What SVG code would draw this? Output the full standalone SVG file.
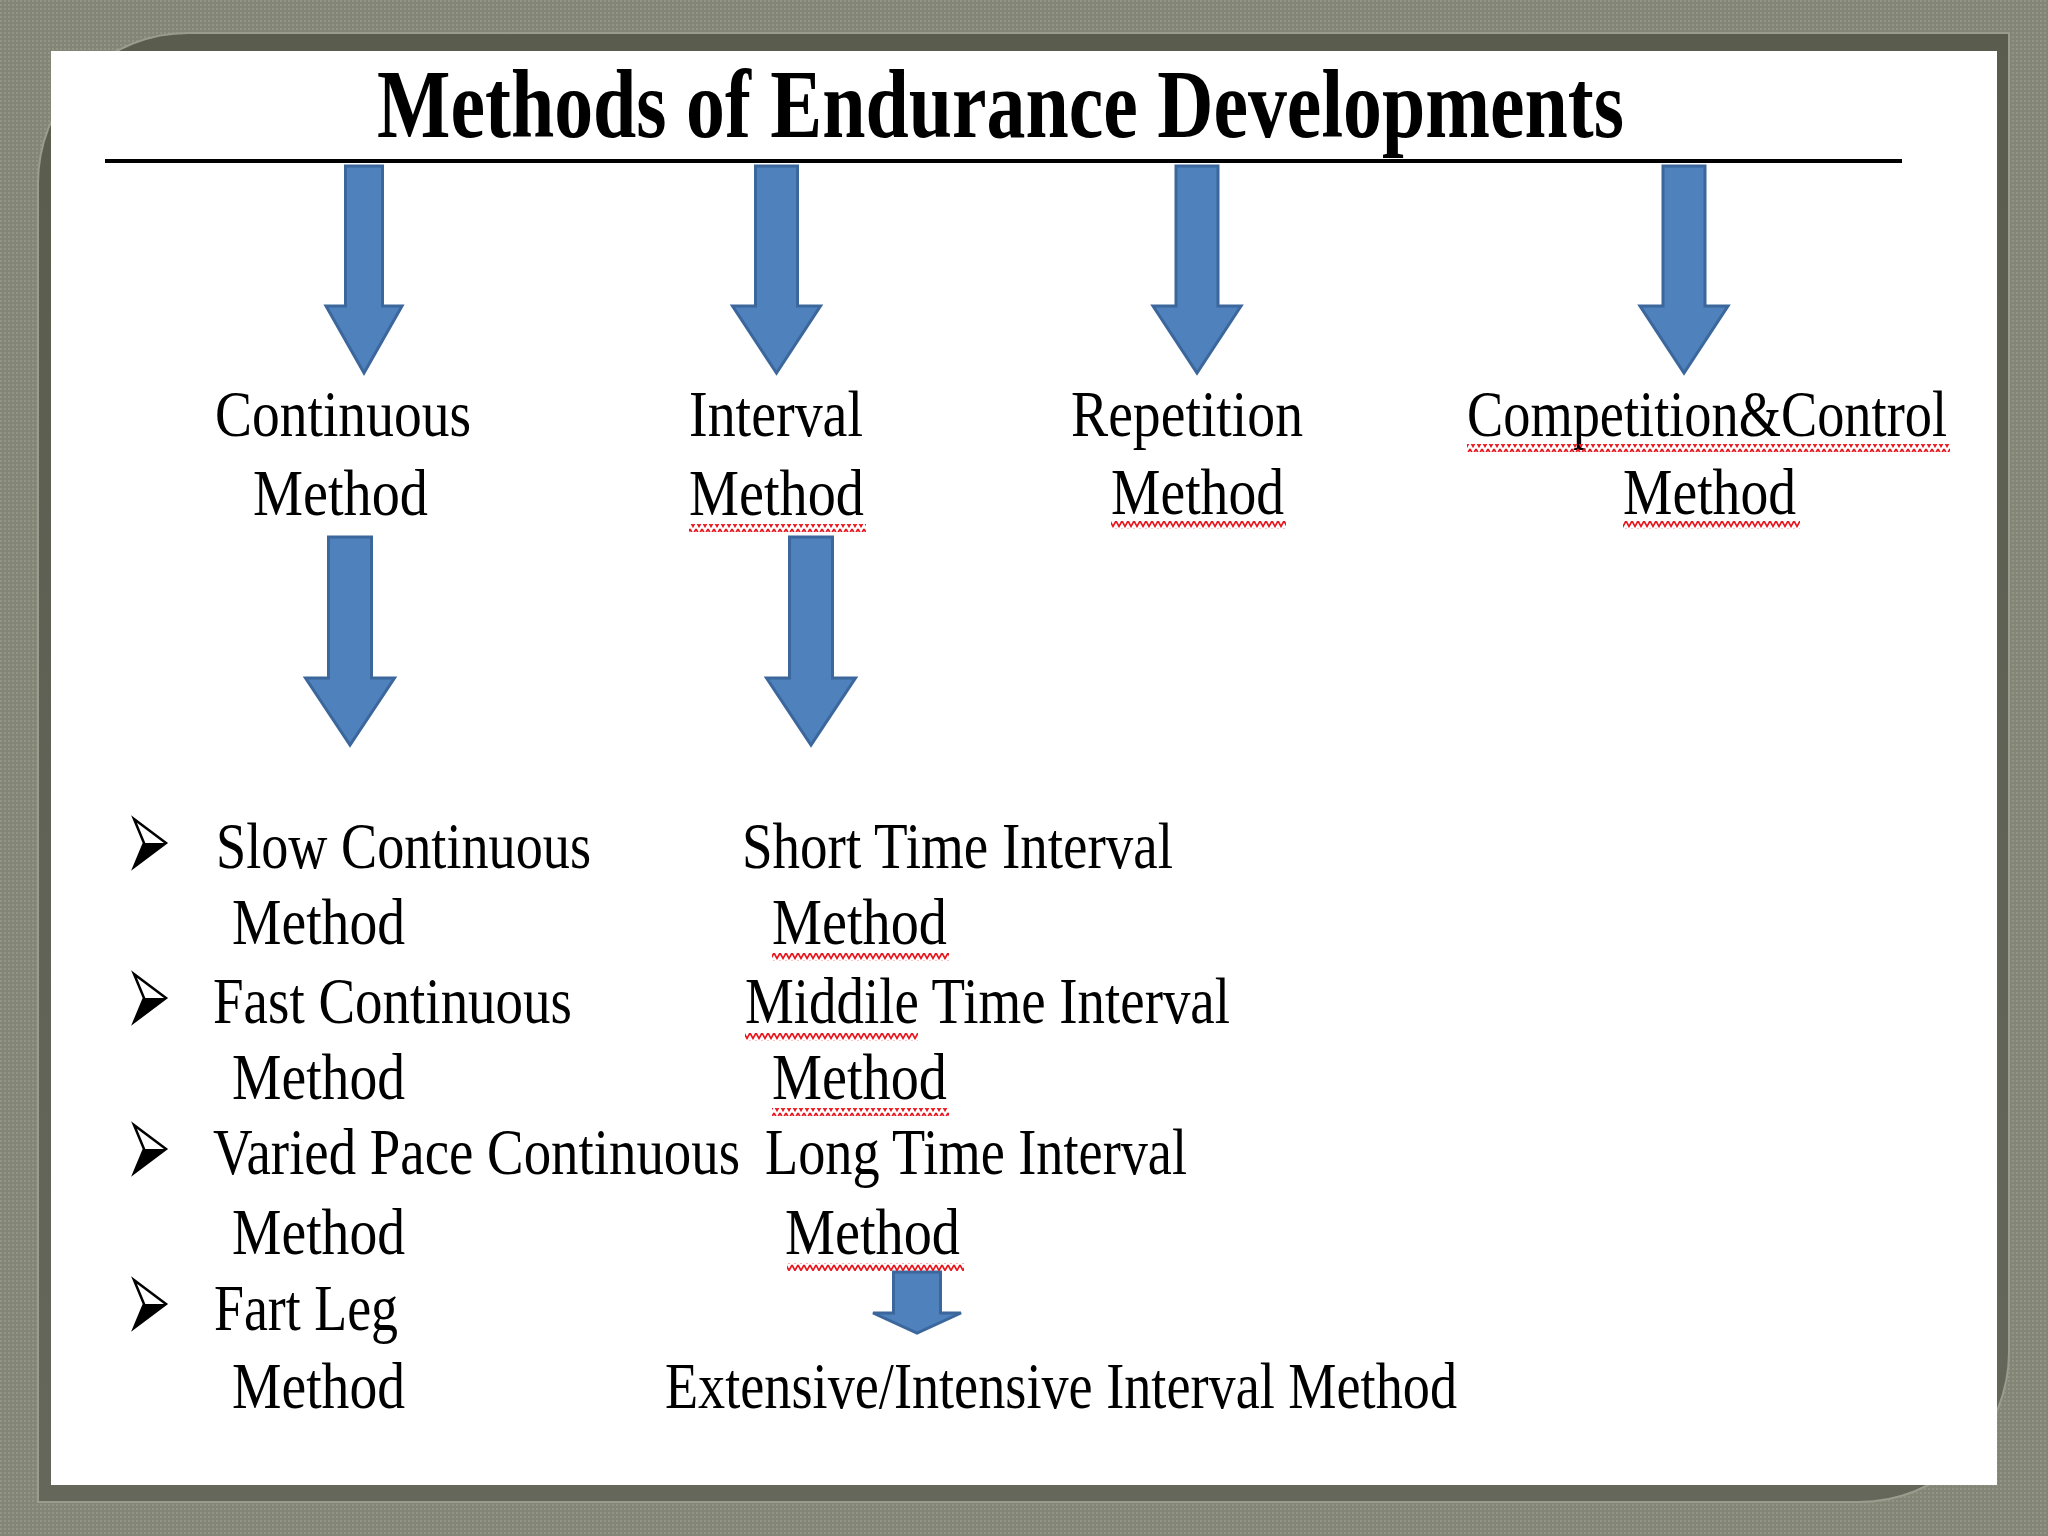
<svg xmlns="http://www.w3.org/2000/svg" width="2048" height="1536" viewBox="0 0 2048 1536">
<defs>
<pattern id="tex" width="4" height="4" patternUnits="userSpaceOnUse">
<rect width="4" height="4" fill="#838677"/>
<rect x="0" y="0" width="2" height="2" fill="#929585"/>
</pattern>
<pattern id="sq" width="6" height="8" patternUnits="userSpaceOnUse">
<path d="M0,1 L3,6.5 L6,1" fill="none" stroke="#e8141c" stroke-width="1.6"/>
</pattern>
<linearGradient id="frm" x1="0" y1="0" x2="0" y2="1">
<stop offset="0" stop-color="#5a5d4e"/>
<stop offset="1" stop-color="#64675a"/>
</linearGradient>
</defs>
<style>
.t{font-family:"Liberation Serif","Times New Roman",serif;font-size:65px;fill:#000;}
.title{font-family:"Liberation Serif","Times New Roman",serif;font-size:97px;font-weight:bold;fill:#000;}
.arrow{fill:#4f81bd;stroke:#3b679c;stroke-width:3;stroke-linejoin:miter;}
.sq{fill:url(#sq);}
.bul-o{fill:#fff;stroke:#000;stroke-width:2.5;stroke-linejoin:miter;}
.bul-f{fill:#000;}
</style>

<!-- background and frame -->
<rect width="2048" height="1536" fill="url(#tex)"/>
<path d="M38,183 A150,150 0 0 1 188,33 L2009,33 L2009,1352 A150,150 0 0 1 1859,1502 L38,1502 Z" fill="url(#frm)" stroke="#9a9d8d" stroke-width="2"/>
<rect x="51" y="51" width="1946" height="1434" fill="#ffffff"/>

<!-- title -->
<g id="title">
<text class="title" x="377" y="137" textLength="1247" lengthAdjust="spacingAndGlyphs">Methods of Endurance Developments</text>
<rect x="105" y="159" width="1797" height="4" fill="#000"/>
</g>

<!-- connectors -->
<g id="connectors">
<path class="arrow" d="M345.5,166 H382.5 V306 H402 L364,373 L326,306 H345.5 Z"/>
<path class="arrow" d="M755.5,166 H797.5 V306 H820.5 L776.5,373 L732.5,306 H755.5 Z"/>
<path class="arrow" d="M1176,166 H1218 V306 H1241 L1197,373 L1153,306 H1176 Z"/>
<path class="arrow" d="M1663,166 H1705 V306 H1728 L1684,373 L1640,306 H1663 Z"/>
<path class="arrow" d="M328.5,537 H371.5 V678 H394.5 L350,745 L305.5,678 H328.5 Z"/>
<path class="arrow" d="M789.5,537 H832.5 V678 H855.5 L811,745 L766.5,678 H789.5 Z"/>
<path class="arrow" d="M893.5,1272 H940.5 V1313 H961 L917,1333 L873,1313 H893.5 Z"/>
</g>

<!-- top-level method nodes -->
<g id="node-continuous">
<text class="t" x="215" y="436" textLength="256" lengthAdjust="spacingAndGlyphs">Continuous</text>
<text class="t" x="253" y="515" textLength="175" lengthAdjust="spacingAndGlyphs">Method</text>
</g>
<g id="node-interval">
<text class="t" x="689" y="436" textLength="174" lengthAdjust="spacingAndGlyphs">Interval</text>
<text class="t" x="689" y="515" textLength="175" lengthAdjust="spacingAndGlyphs">Method</text>
<rect class="sq" x="689" y="524" width="177" height="8"/>
</g>
<g id="node-repetition">
<text class="t" x="1071" y="436" textLength="232" lengthAdjust="spacingAndGlyphs">Repetition</text>
<text class="t" x="1111" y="514" textLength="173" lengthAdjust="spacingAndGlyphs">Method</text>
<rect class="sq" x="1111" y="521" width="175" height="8"/>
</g>
<g id="node-competition">
<text class="t" x="1467" y="436" textLength="480" lengthAdjust="spacingAndGlyphs">Competition&amp;Control</text>
<rect class="sq" x="1467" y="444" width="483" height="8"/>
<text class="t" x="1623" y="514" textLength="173" lengthAdjust="spacingAndGlyphs">Method</text>
<rect class="sq" x="1623" y="521" width="177" height="8"/>
</g>

<!-- continuous sub-methods -->
<g id="node-continuous-list">
<g id="bullet-1">
<path class="bul-o" d="M134,819 L166,843 L134,867 L144,843 Z"/>
<path class="bul-f" d="M144,843 L166,843 L134,867 Z"/>
</g>
<text class="t" x="216" y="868" textLength="375" lengthAdjust="spacingAndGlyphs">Slow Continuous</text>
<text class="t" x="232" y="944" textLength="173" lengthAdjust="spacingAndGlyphs">Method</text>
<g id="bullet-2">
<path class="bul-o" d="M134,974 L166,998 L134,1022 L144,998 Z"/>
<path class="bul-f" d="M144,998 L166,998 L134,1022 Z"/>
</g>
<text class="t" x="213" y="1023" textLength="359" lengthAdjust="spacingAndGlyphs">Fast Continuous</text>
<text class="t" x="232" y="1099" textLength="173" lengthAdjust="spacingAndGlyphs">Method</text>
<g id="bullet-3">
<path class="bul-o" d="M134,1125 L166,1149 L134,1173 L144,1149 Z"/>
<path class="bul-f" d="M144,1149 L166,1149 L134,1173 Z"/>
</g>
<text class="t" x="213" y="1174" textLength="527" lengthAdjust="spacingAndGlyphs">Varied Pace Continuous</text>
<text class="t" x="232" y="1254" textLength="173" lengthAdjust="spacingAndGlyphs">Method</text>
<g id="bullet-4">
<path class="bul-o" d="M134,1280 L166,1304 L134,1328 L144,1304 Z"/>
<path class="bul-f" d="M144,1304 L166,1304 L134,1328 Z"/>
</g>
<text class="t" x="214" y="1330" textLength="184" lengthAdjust="spacingAndGlyphs">Fart Leg</text>
<text class="t" x="232" y="1408" textLength="173" lengthAdjust="spacingAndGlyphs">Method</text>
</g>

<!-- interval sub-methods -->
<g id="node-interval-list">
<text class="t" x="742" y="868" textLength="431" lengthAdjust="spacingAndGlyphs">Short Time Interval</text>
<text class="t" x="772" y="944" textLength="175" lengthAdjust="spacingAndGlyphs">Method</text>
<rect class="sq" x="772" y="953" width="177" height="8"/>
<text class="t" x="745" y="1023" textLength="485" lengthAdjust="spacingAndGlyphs">Middile Time Interval</text>
<rect class="sq" x="745" y="1033" width="173" height="8"/>
<text class="t" x="772" y="1099" textLength="175" lengthAdjust="spacingAndGlyphs">Method</text>
<rect class="sq" x="772" y="1108" width="177" height="8"/>
<text class="t" x="765" y="1174" textLength="422" lengthAdjust="spacingAndGlyphs">Long Time Interval</text>
<text class="t" x="785" y="1254" textLength="175" lengthAdjust="spacingAndGlyphs">Method</text>
<rect class="sq" x="787" y="1263" width="177" height="8"/>
</g>
<g id="node-extensive">
<text class="t" x="665" y="1408" textLength="792" lengthAdjust="spacingAndGlyphs">Extensive/Intensive Interval Method</text>
</g>
</svg>
